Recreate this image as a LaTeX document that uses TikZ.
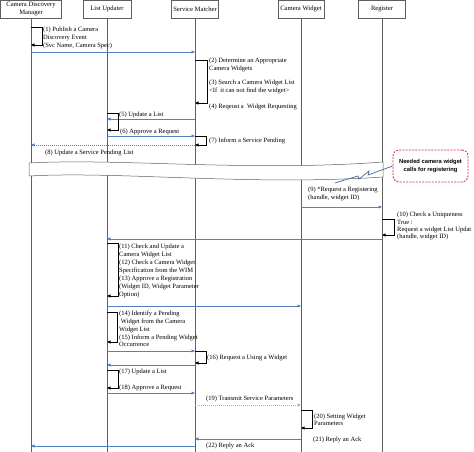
\documentclass[tikz,border=0pt]{standalone}
\usepackage{fontspec}
\setmainfont{Liberation Serif}
\newfontfamily\calloutfont{Liberation Sans}
\usetikzlibrary{arrows.meta}
\definecolor{msgblue}{RGB}{84,128,190}
\definecolor{lifegray}{RGB}{95,95,95}
\definecolor{callred}{RGB}{215,40,50}
\begin{document}
\begin{tikzpicture}[x=1pt,y=-1pt,
 hdr/.style={draw=lifegray,line width=0.9pt,fill=white,font=\fontsize{6.6}{8}\selectfont,align=center,inner sep=0.5pt,minimum height=18pt},
 life/.style={draw=lifegray,line width=1pt},
 msg/.style={draw=msgblue,line width=0.6pt,-{Triangle[length=3.5pt,width=3pt]}},
 dmsg/.style={msg,dash pattern=on 1pt off 1pt},
 selfloop/.style={draw=black,line width=0.6pt,-{Triangle[length=3.5pt,width=3pt]}},
 lbl/.style={font=\fontsize{6.5}{7.8}\selectfont,anchor=north west,align=left,inner sep=0pt}
]
\clip (0,0) rectangle (474,452);
% lifeline heads
\node[hdr,minimum width=61pt] (cdm) at (31,9) {Camera Discovery\\Manager};
\node[hdr,minimum width=48pt] (lu) at (107,9) {List Updater};
\node[hdr,minimum width=47pt] (sm) at (195,9) {Service Matcher};
\node[hdr,minimum width=46pt] (cw) at (301,9) {Camera Widget};
\node[hdr,minimum width=47pt] (reg) at (382,9) {Register};
\foreach \n in {cdm,lu,sm,cw,reg}{
  \coordinate (\n B) at (\n |- 0,455);
  \draw[life] (\n.south) -- (\n B);
}
% (1)
\draw[selfloop] (cdm |- 0,27) -- ++(11,0) |- (cdm |- 0,45);
\node[lbl] (l1) at (43,27) {(1) Publish a Camera\\Discovery Event\\(Svc Name, Camera Spec)};
\draw[msg] (cdm |- 0,52) -- (sm |- 0,52);
% (2)-(4)
\draw[selfloop] (sm |- 0,60) -- ++(12,0) |- (sm |- 0,103);
\node[lbl] (l2) at (209,58) {(2) Determine an Appropriate\\Camera Widgets};
\node[lbl] (l3) at (209,80) {(3) Search a Camera Widget List\\<If\ \ it can not find the widget>};
\node[lbl] (l4) at (209,104) {(4) Reqeust a\ \ Widget Requesting};
\draw[msg] (sm |- 0,119) -- (lu |- 0,119);
% (5)-(6)
\draw[selfloop] (lu |- 0,113) -- ++(11,0) |- (lu |- 0,130);
\node[lbl] (l5) at (119,112) {(5) Update a List};
\node[lbl] (l6) at (120,129) {(6) Approve a Request};
\draw[msg] (lu |- 0,136) -- (sm |- 0,136);
% (7)
\draw[selfloop] (sm |- 0,136) -- ++(11,0) |- (sm |- 0,145);
\node[lbl] (l7) at (209,138) {(7) Inform a Service Pending};
\draw[dmsg] (sm |- 0,145) -- (cdm |- 0,145);
\node[lbl] (l8) at (45,150) {(8) Update a Service Pending List};
% break band
\path[draw=lifegray,line width=0.5pt,fill=white]
  (29,163) .. controls (120,158) and (250,172) .. (383,162)
  -- (383,177) .. controls (250,186) and (120,171) .. (29,176) -- cycle;
% callout
\node[draw=callred,line width=0.8pt,dash pattern=on 2pt off 1.2pt,rounded corners=6pt,
  minimum width=75pt,minimum height=32pt,align=center,inner sep=1pt,
  font=\calloutfont\bfseries\fontsize{5.8}{7.5}\selectfont] (call) at (430.5,166)
  {Needed camera widget\\calls for registering};
\coordinate (bolt) at (335,183);
\draw[msgblue!80!black,line width=0.7pt] (call.west) -- (368,175) -- (369,171) -- (359,179) -- (358,176) -- (bolt);
% (9)
\node[lbl] (l9) at (308,187) {(9) *Request a Registering\\(handle, widget ID)};
\draw[msg] (cw |- 0,207) -- (reg |- 0,207);
% (10)
\draw[selfloop] (reg |- 0,219) -- ++(12,0) |- (reg |- 0,235);
\node[lbl,font=\fontsize{6.5}{7.3}\selectfont] (l10) at (397,212) {(10) Check a Uniqueness\\True :\\Request a widget List Updat\\(handle, widget ID)};
\draw[msg] (reg |- 0,239) -- (lu |- 0,239);
% (11)-(13)
\draw[selfloop] (lu |- 0,243) -- ++(11,0) |- (lu |- 0,296);
\node[lbl,font=\fontsize{6.5}{7.9}\selectfont] (l11) at (119,244) {(11) Check and Update a\\Camera Widget List\\(12) Check a Camera Widget\\Specification from the WIM\\(13) Approve a Registration\\(Widget ID, Widget Parameter\\Option)};
\draw[msg] (lu |- 0,306) -- (cw |- 0,306);
% (14)-(15)
\draw[selfloop] (lu |- 0,312) -- ++(10,0) |- (lu |- 0,342);
\node[lbl] (l14) at (119,311) {(14) Identify a Pending\\\ Widget from the Camera\\Widget List\\(15) Inform a Pending Widget\\Occurrence};
\draw[msg] (lu |- 0,351) -- (sm |- 0,351);
% (16)
\draw[selfloop] (sm |- 0,351) -- ++(11,0) |- (sm |- 0,363);
\node[lbl] (l16) at (207,355) {(16) Request a Using a Widget};
\draw[msg] (sm |- 0,365) -- (lu |- 0,365);
% (17)-(18)
\draw[selfloop] (lu |- 0,370) -- ++(11,0) |- (lu |- 0,388);
\node[lbl] (l17) at (119,369) {(17) Update a List};
\node[lbl] (l18) at (119,385) {(18) Approve a Request};
\draw[msg] (lu |- 0,393) -- (sm |- 0,393);
% (19)
\node[lbl] (l19) at (206,396) {(19) Transmit Service Parameters};
\draw[dmsg,draw=msgblue!60] (sm |- 0,405) -- (cw |- 0,405);
% (20)
\draw[selfloop] (cw |- 0,410) -- ++(11,0) |- (cw |- 0,428);
\node[lbl,font=\fontsize{6.5}{7}\selectfont] (l20) at (314,414) {(20) Setting Widget\\Parameters};
% (21)
\draw[msg] (cw |- 0,439) -- (sm |- 0,439);
\node[lbl] (l21) at (313,437) {(21) Reply an Ack};
% (22)
\draw[msg] (sm |- 0,446) -- (cdm |- 0,446);
\node[lbl] (l22) at (206,443) {(22) Reply an Ack};
\end{tikzpicture}
\end{document}
